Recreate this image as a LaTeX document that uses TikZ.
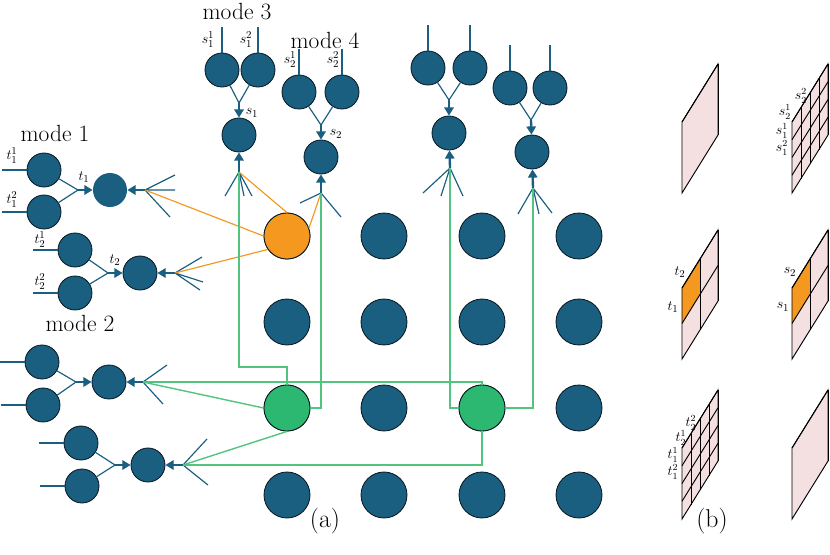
\documentclass[tikz,border=0pt]{standalone}
\usepackage{amsmath}
\usepackage{fontspec}
\usetikzlibrary{arrows.meta}
\definecolor{nodeblue}{RGB}{26,94,128}
\definecolor{hotorange}{RGB}{245,152,32}
\definecolor{hotgreen}{RGB}{45,184,114}
\definecolor{linkgreen}{RGB}{82,196,128}
\definecolor{slicepink}{RGB}{244,224,224}
\begin{document}
\begin{tikzpicture}[x=0.03cm,y=-0.03cm,
    leaf/.style={circle,draw=black!75!nodeblue,fill=nodeblue,line width=0.7pt,minimum size=1.02cm,inner sep=0},
    big/.style={circle,draw=black!75!nodeblue,fill=nodeblue,line width=0.7pt,minimum size=1.38cm,inner sep=0},
    wire/.style={nodeblue,line width=1pt},
    merge/.style={nodeblue,line width=2pt,-{Triangle[length=7pt,width=8pt]}},
    oedge/.style={hotorange,line width=1pt},
    gedge/.style={linkgreen,line width=1.2pt},
    lab/.style={font=\fontsize{13}{13}\selectfont},
    slab/.style={font=\fontsize{12}{12}\selectfont,inner sep=0.5pt},
    modelab/.style={font=\fontsize{20}{20}\selectfont}]
    \useasboundingbox (0,0) rectangle (830,555);
    %%%%% THE GRID OF CELLS
    \foreach \c/\x in {1/287,2/384,3/482,4/579}
      \foreach \r/\y in {1/236,2/322,3/408,4/495}
        \node[big] (G-\r-\c) at (\x,\y) {};
    \node[big,fill=hotorange] at (G-1-1) {};
    \node[big,fill=hotgreen] at (G-3-1) {};
    \node[big,fill=hotgreen] at (G-3-3) {};
    %%%%% THE TOP TREES
    \node[leaf] (A1) at (222,70) {};
    \node[leaf] (A2) at (258,70) {};
    \node[leaf] (A) at (239,135) {};
    \coordinate (Aj) at (239,103);
    \coordinate (Af) at (239,172);
    \node[leaf] (B1) at (299,92) {};
    \node[leaf] (B2) at (342,92) {};
    \node[leaf] (B) at (321,157) {};
    \coordinate (Bj) at (321,125);
    \coordinate (Bf) at (321,193);
    \node[leaf] (C1) at (428,68) {};
    \node[leaf] (C2) at (470,68) {};
    \node[leaf] (C) at (449,133) {};
    \coordinate (Cj) at (449,100);
    \coordinate (Cf) at (450,168);
    \node[leaf] (D1) at (510,88) {};
    \node[leaf] (D2) at (550,88) {};
    \node[leaf] (D) at (532,152) {};
    \coordinate (Dj) at (531,120);
    \coordinate (Df) at (533,188);
    \foreach \t in {A,B,C,D} {
      \draw[wire] (\t1.north) -- ++(0,-26);
      \draw[wire] (\t2.north) -- ++(0,-26);
      \draw[wire] (\t1) -- (\t j) -- (\t2);
      \draw[merge] (\t j) -- (\t);
      \draw[merge] (\t f) -- (\t);
    }
    \draw[wire] (225,196) -- (Af) -- (252,196) (Af) -- (244,196);
    \draw[wire] (300,203) -- (Bf) -- (341,217);
    \draw[wire] (423,193) -- (Cf) -- (463,196) (Cf) -- (441,196);
    \draw[wire] (518,214) -- (Df) -- (552,213) (Df) -- (539,214);
    \node[lab] at (208,40) {$s_1^1$};
    \node[lab] at (246,40) {$s_1^2$};
    \node[lab] at (252,113) {$s_1$};
    \node[lab] at (290,60) {$s_2^1$};
    \node[lab] at (333,60) {$s_2^2$};
    \node[lab] at (336,134) {$s_2$};
    \node[modelab] at (237,12) {mode 3};
    \node[modelab] at (325,40) {mode 4};
    %%%%% THE LEFT TREES
    \node[leaf] (P1) at (44,170) {};
    \node[leaf] (P2) at (44,212) {};
    \node[leaf,draw=none] (P) at (110,190) {};
    \coordinate (Pj) at (78,190);
    \coordinate (Pf) at (145,190);
    \node[leaf] (Q1) at (75,250) {};
    \node[leaf] (Q2) at (75,293) {};
    \node[leaf] (Q) at (140,273) {};
    \coordinate (Qj) at (108,273);
    \coordinate (Qf) at (175,273);
    \node[leaf] (U1) at (42,362) {};
    \node[leaf] (U2) at (43,405) {};
    \node[leaf] (U) at (109,382) {};
    \coordinate (Uj) at (76,382);
    \coordinate (Uf) at (143,382);
    \node[leaf] (V1) at (81,443) {};
    \node[leaf] (V2) at (82,486) {};
    \node[leaf] (V) at (148,465) {};
    \coordinate (Vj) at (115,465);
    \coordinate (Vf) at (183,465);
    \foreach \t in {P,Q,U,V} {
      \draw[wire] (\t1.west) -- ++(-25,0);
      \draw[wire] (\t2.west) -- ++(-25,0);
      \draw[wire] (\t1) -- (\t j) -- (\t2);
      \draw[merge] (\t j) -- (\t);
      \draw[merge] (\t f) -- (\t);
    }
    \draw[wire] (175,175) -- (Pf) -- (170,217) (Pf) -- (175,190);
    \draw[wire] (202,257) -- (Qf) -- (200,290) (Qf) -- (203,282);
    \draw[wire] (167,365) -- (Uf) -- (163,404);
    \draw[wire] (207,439) -- (Vf) -- (208,485);
    \node[lab] at (12,156) {$t_1^1$};
    \node[lab] at (12,200) {$t_1^2$};
    \node[lab] at (84,177) {$t_1$};
    \node[lab] at (40,240) {$t_2^1$};
    \node[lab] at (40,282) {$t_2^2$};
    \node[lab] at (115,260) {$t_2$};
    \node[modelab] at (55,133) {mode 1};
    \node[modelab] at (80,323) {mode 2};
    %%%%% ORANGE AND GREEN LINKS
    \draw[oedge] (G-1-1.west) -- (Pf);
    \draw[oedge] (G-1-1.-145) -- (Qf);
    \draw[oedge] (G-1-1.north) -- (Af);
    \draw[oedge] (G-1-1.20) -- (Bf);
    \draw[gedge] (G-3-1.west) -- (Uf);
    \draw[gedge] (G-3-1.south) -- (Vf);
    \draw[gedge] (G-3-1.north) |- (239,367) -- (Af);
    \draw[gedge] (G-3-1.east) -| (Bf);
    \draw[gedge] (Uf) -| (G-3-3.north);
    \draw[gedge] (G-3-3.south) |- (Vf);
    \draw[gedge] (G-3-3.west) -| (Cf);
    \draw[gedge] (G-3-3.east) -| (Df);
    %%%%% THE SLICES
    \foreach \px/\py/\n/\hl in {682/193/1/0,792/193/4/0,682/359/2/1,792/359/2/1,682/519/4/0,792/519/1/0} {
      \coordinate (corner) at (\px,\py);
      \begin{scope}[shift={(corner)},x={(1.08cm,1.74cm)},y={(0cm,2.13cm)}]
        \fill[slicepink] (0,0) -- (1,0) -- (1,1) -- (0,1) -- cycle;
        \ifnum\hl=1 \fill[hotorange] (0,0.5) -- (0.5,0.5) -- (0.5,1) -- (0,1) -- cycle; \fi
        \foreach \k in {1,...,\n} {
          \draw[line width=0.8pt] (\k/\n,0) -- (\k/\n,1);
          \draw[line width=0.8pt] (0,\k/\n) -- (1,\k/\n);
        }
        \draw[line width=0.8pt] (0,0) -- (1,0) -- (1,1) -- (0,1) -- cycle;
      \end{scope}
    }
    \node[slab] at (801,96) {$s_2^2$};
    \node[slab] at (785,112) {$s_2^1$};
    \node[slab] at (782,131) {$s_1^1$};
    \node[slab] at (782,148) {$s_1^2$};
    \node[lab] at (680,272) {$t_2$};
    \node[lab] at (673,307) {$t_1$};
    \node[lab] at (790,272) {$s_2$};
    \node[lab] at (783,307) {$s_1$};
    \node[slab] at (691,423) {$t_2^2$};
    \node[slab] at (681,438) {$t_2^1$};
    \node[slab] at (673,455) {$t_1^1$};
    \node[slab] at (673,472) {$t_1^2$};
    \node[font=\fontsize{22}{22}\selectfont] at (325,521) {(a)};
    \node[font=\fontsize{22}{22}\selectfont] at (712,521) {(b)};
\end{tikzpicture}
\end{document}
